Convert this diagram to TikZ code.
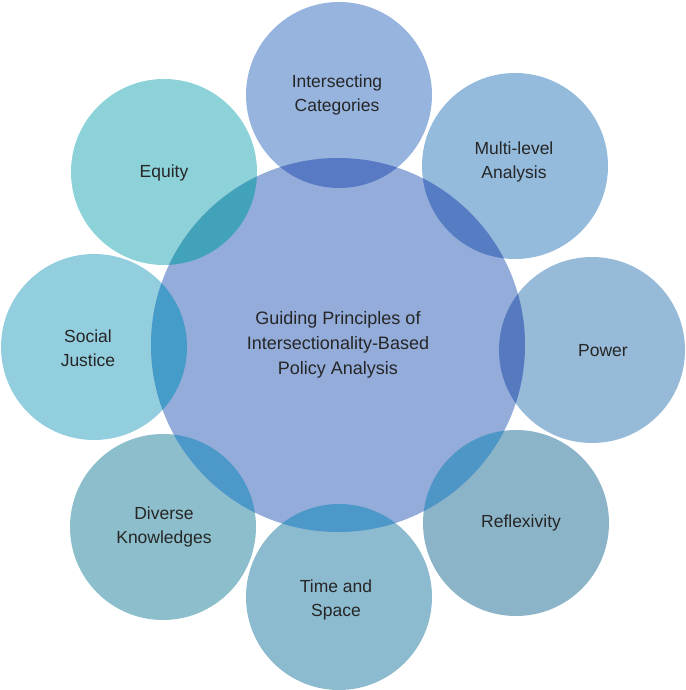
\documentclass[tikz,border=0pt]{standalone}
\usepackage{fontspec}
\setmainfont{Liberation Sans}
\begin{document}
\begin{tikzpicture}[x=1pt,y=-1pt,
  lbl/.style={align=center,font=\fontsize{17.5}{24}\selectfont,text=black!85}]
\useasboundingbox (0,0) rectangle (685,690);
\definecolor{cc}{HTML}{93ACDA}
\definecolor{f1}{HTML}{96B4DE}\definecolor{o1}{HTML}{587AC4}
\definecolor{f2}{HTML}{94BADC}\definecolor{o2}{HTML}{567CC4}
\definecolor{f3}{HTML}{96BAD8}\definecolor{o3}{HTML}{567AC0}
\definecolor{f4}{HTML}{8CB4C8}\definecolor{o4}{HTML}{4E96C6}
\definecolor{f5}{HTML}{8CBACE}\definecolor{o5}{HTML}{4C98C8}
\definecolor{f6}{HTML}{8CBECC}\definecolor{o6}{HTML}{4C98C8}
\definecolor{f7}{HTML}{92CEDE}\definecolor{o7}{HTML}{469CC8}
\definecolor{f8}{HTML}{8CD2D8}\definecolor{o8}{HTML}{42A2BA}
\def\R{93}
\foreach \x/\y/\i in {339/95/1, 515/166/2, 592/350/3, 516/523/4,
  339/597/5, 163/527/6, 94/347/7, 164/172/8}{
  \fill[f\i] (\x,\y) circle (\R);
}
\fill[cc] (338,345) circle (187);
\foreach \x/\y/\i in {339/95/1, 515/166/2, 592/350/3, 516/523/4,
  339/597/5, 163/527/6, 94/347/7, 164/172/8}{
  \begin{scope}
    \clip (338,345) circle (187);
    \fill[o\i] (\x,\y) circle (\R);
  \end{scope}
}
\node[lbl,font=\fontsize{18}{25}\selectfont] (c) at (338,345) {Guiding Principles of\\Intersectionality-Based\\Policy Analysis};
\node[lbl] (a) at (337,95) {Intersecting\\Categories};
\node[lbl] (b) at (514,162) {Multi-level\\Analysis};
\node[lbl] (p) at (603,351) {Power};
\node[lbl] (r) at (521,523) {Reflexivity};
\node[lbl] (t) at (336,600) {Time and\\Space};
\node[lbl] (d) at (164,527) {Diverse\\Knowledges};
\node[lbl] (s) at (88,348) {Social\\Justice};
\node[lbl] (e) at (164,173) {Equity};
\end{tikzpicture}
\end{document}
